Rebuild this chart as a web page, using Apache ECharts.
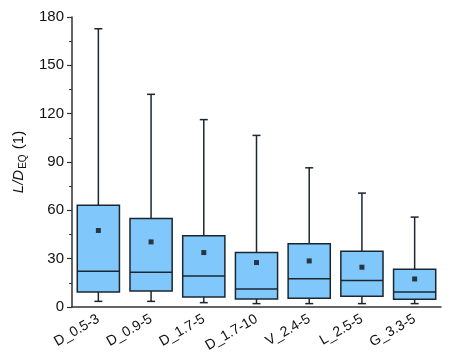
<!DOCTYPE html>
<html>
<head>
<meta charset="utf-8">
<script src="https://cdn.jsdelivr.net/npm/echarts@6/dist/echarts.min.js"></script>
<style>html,body{margin:0;padding:0;background:#fff}#c{width:474px;height:362px}</style>
</head>
<body>
<div id="c"></div>
<script>
var categories = ['D_0.5-3','D_0.9-5','D_1.7-5','D_1.7-10','V_2.4-5','L_2.5-5','G_3.3-5'];
var whiskerLow = [3.5, 3.5, 2.7, 2.1, 2.1, 2.1, 2.1];
var q1 = [9.3, 10.0, 6.2, 5.0, 5.4, 6.6, 4.8];
var median = [22.2, 21.6, 19.3, 11.2, 17.6, 16.4, 9.3];
var q3 = [63.2, 54.9, 44.2, 33.8, 39.2, 34.6, 23.4];
var whiskerHigh = [172.7, 132.0, 116.3, 106.5, 86.4, 70.7, 55.8];
var means = [47.5, 40.4, 33.8, 27.6, 28.6, 24.7, 17.4];
var yTicks = [0, 30, 60, 90, 120, 150, 180];

var boxData = categories.map(function (c, i) {
  return [i, whiskerLow[i], q1[i], median[i], q3[i], whiskerHigh[i]];
});
var meanData = categories.map(function (c, i) { return [i, means[i]]; });

var lineCol = '#1b2630';
function renderBox(params, api) {
  var x = api.value(0);
  var pLow = api.coord([x, api.value(1)]);
  var pQ1 = api.coord([x, api.value(2)]);
  var pMed = api.coord([x, api.value(3)]);
  var pQ3 = api.coord([x, api.value(4)]);
  var pHigh = api.coord([x, api.value(5)]);
  var bw = api.size([1, 0])[0] * 0.8;
  var cx = pMed[0];
  var cap = 4;
  var ls = {stroke: lineCol, lineWidth: 1.5};
  return {
    type: 'group',
    children: [
      {type: 'line', shape: {x1: cx, y1: pHigh[1], x2: cx, y2: pQ3[1]}, style: ls},
      {type: 'line', shape: {x1: cx - cap, y1: pHigh[1], x2: cx + cap, y2: pHigh[1]}, style: ls},
      {type: 'line', shape: {x1: cx, y1: pQ1[1], x2: cx, y2: pLow[1]}, style: ls},
      {type: 'line', shape: {x1: cx - cap, y1: pLow[1], x2: cx + cap, y2: pLow[1]}, style: ls},
      {type: 'rect', shape: {x: cx - bw / 2, y: pQ3[1], width: bw, height: pQ1[1] - pQ3[1]},
        style: {fill: '#80c8fb', stroke: lineCol, lineWidth: 1.5}},
      {type: 'line', shape: {x1: cx - bw / 2, y1: pMed[1], x2: cx + bw / 2, y2: pMed[1]}, style: ls}
    ]
  };
}

var chart = echarts.init(document.getElementById('c'));
chart.setOption({
  animation: false,
  backgroundColor: '#fff',
  grid: {left: 72, right: 33, top: 17, bottom: 55},
  xAxis: {
    type: 'category',
    data: categories,
    boundaryGap: true,
    axisLine: {lineStyle: {color: '#333', width: 1.5}},
    axisTick: {alignWithLabel: true, length: 5, lineStyle: {color: '#333', width: 1.2}},
    axisLabel: {rotate: 30, color: '#111', fontSize: 14, fontFamily: 'Liberation Sans, Arial, sans-serif', margin: 11}
  },
  yAxis: {
    type: 'value',
    min: 0, max: 180, interval: 30,
    name: '{it|L/D}{sub|EQ}{n| (1)}',
    nameLocation: 'middle',
    nameGap: 42,
    nameRotate: 90,
    nameTextStyle: {
      rich: {
        it: {fontStyle: 'italic', fontSize: 15, color: '#111', fontFamily: 'Liberation Sans, Arial, sans-serif'},
        sub: {fontSize: 10, color: '#111', fontFamily: 'Liberation Sans, Arial, sans-serif', verticalAlign: 'bottom', padding: [8, 1, 0, 1]},
        n: {fontSize: 15, color: '#111', fontFamily: 'Liberation Sans, Arial, sans-serif'}
      }
    },
    axisLine: {show: true, lineStyle: {color: '#333', width: 1.5}},
    axisTick: {show: true, length: 5, lineStyle: {color: '#333', width: 1.2}},
    minorTick: {show: true, splitNumber: 2, length: 3, lineStyle: {color: '#333', width: 1}},
    splitLine: {show: false},
    axisLabel: {
      color: '#111', fontSize: 15, fontFamily: 'Liberation Sans, Arial, sans-serif', margin: 8,
      formatter: function (v) { return yTicks.indexOf(v) >= 0 ? String(v) : ''; }
    }
  },
  series: [
    {type: 'custom', renderItem: renderBox, data: boxData, encode: {x: 0, y: [1, 2, 3, 4, 5]}, z: 2},
    {type: 'scatter', data: meanData, symbol: 'rect', symbolSize: 5, itemStyle: {color: '#111'}, z: 3}
  ]
});
</script>
</body>
</html>
